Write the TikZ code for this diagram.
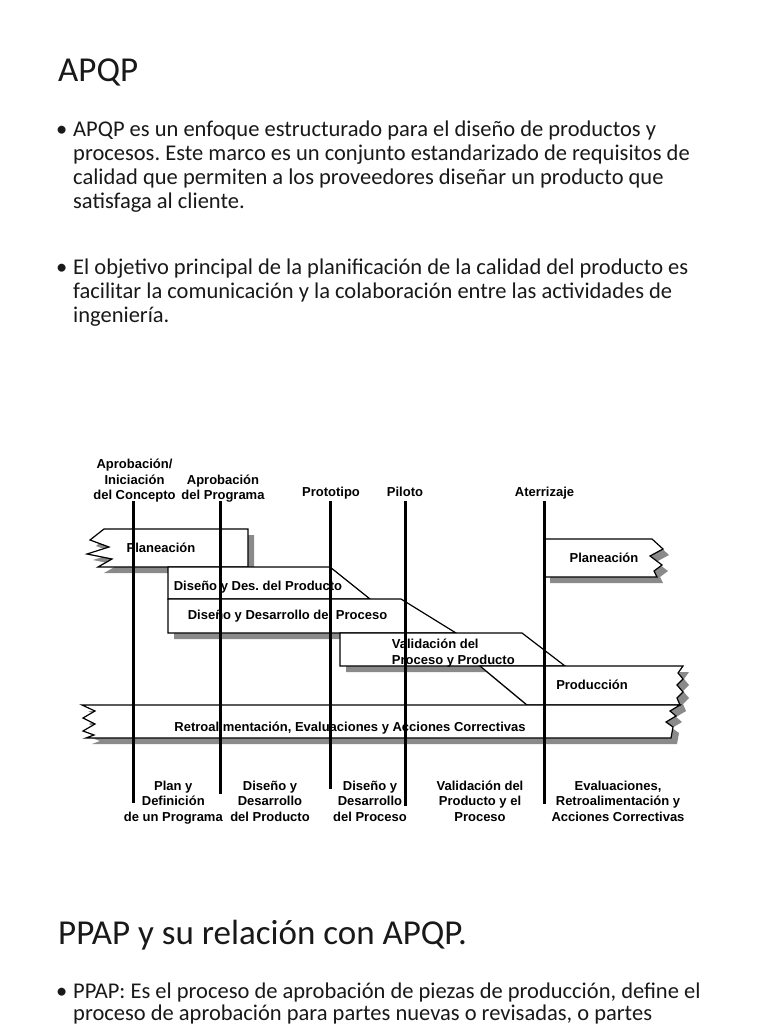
\documentclass[tikz,border=0pt]{standalone}
\usepackage{fontspec}
\setmainfont{Carlito}
\newfontfamily\chartfont{Liberation Sans}
\usepackage{tikz}
\usetikzlibrary{calc}
\definecolor{shade}{RGB}{138,138,138}
\definecolor{ink}{RGB}{25,25,25}
\frenchspacing

\begin{document}
\begin{tikzpicture}[x=1pt,y=-1pt,
  slidehead/.style={anchor=base west,inner sep=0pt,text=ink,font=\fontsize{35}{42}\selectfont},
  slidebody/.style={anchor=base west,inner sep=0pt,align=left,text=ink,font=\fontsize{22.5}{24}\selectfont},
  chartlbl/.style={anchor=base,inner sep=0pt,align=center,font=\chartfont\bfseries\fontsize{13}{15.5}\selectfont},
  phasebox/.style={fill=white,draw=black,line width=1.2pt},
  dropshade/.style={fill=shade},
  milestone/.style={line width=3pt}]
  \useasboundingbox (0,0) rectangle (768,1024);
  \fill[white] (0,0) rectangle (768,1024);

  % slide text (multi-line nodes sit on their last baseline)
  \node[slidehead] (title1) at (58,82) {APQP};
  \node[slidebody] (dot1) at (56,137) {•};
  \node[slidebody] (item1) at (73,209) {APQP es un enfoque estructurado para el diseño de productos y\\
    procesos. Este marco es un conjunto estandarizado de requisitos de\\
    calidad que permiten a los proveedores diseñar un producto que\\
    satisfaga al cliente.};
  \node[slidebody] (dot2) at (56,274) {•};
  \node[slidebody] (item2) at (73,322) {El objetivo principal de la planificación de la calidad del producto es\\
    facilitar la comunicación y la colaboración entre las actividades de\\
    ingeniería.};
  \node[slidehead] (title2) at (58,944) {PPAP y su relación con APQP.};
  \node[slidebody] (dot3) at (56,998) {•};
  \node[slidebody,font=\fontsize{22.5}{22}\selectfont] (item3) at (73,1020) {PPAP: Es el proceso de aprobación de piezas de producción, define el\\
    proceso de aprobación para partes nuevas o revisadas, o partes};

  % phases, shadow first
  \foreach \layer/\off in {dropshade/6,phasebox/0} {
    \begin{scope}[shift={(\off,\off)}]
      \path[\layer] (104,529) -- (248,529) -- (248,567) -- (98,567) -- (112,559) -- (87,554)
        -- (109,547) -- (90,540) -- cycle;
      \path[\layer] (168,567) -- (330,567) -- (370,599) -- (168,599) -- cycle;
      \path[\layer] (168,599) -- (401,599) -- (456,633) -- (168,633) -- cycle;
      \path[\layer] (340,633) -- (522,633) -- (565,666) -- (340,666) -- cycle;
      \path[\layer] (480,666) -- (683,666) -- (678,673) -- (683,679) -- (677,685) -- (683,692)
        -- (677,698) -- (680,705) -- (527,705) -- cycle;
      \path[\layer] (82,705) -- (680,705) -- (670,711) -- (676,716) -- (666,722) -- (673,727)
        -- (671,738) -- (86,738) -- (94,735) -- (83,731) -- (95,724) -- (83,718) -- (95,711) -- cycle;
      \path[\layer] (544,539) -- (652,539) -- (663,549) -- (650,556) -- (662,565) -- (654,571)
        -- (657,577) -- (544,577) -- cycle;
    \end{scope}
  }

  % milestones
  \node[chartlbl] (concept) at (134.5,499.5) {Aprobación/\\Iniciación\\del Concepto};
  \node[chartlbl] (program) at (223,499.5) {Aprobación\\del Programa};
  \node[chartlbl] (proto) at (331,496.5) {Prototipo};
  \node[chartlbl] (pilot) at (405,496.5) {Piloto};
  \node[chartlbl] (landing) at (544.5,496.5) {Aterrizaje};

  % phase texts
  \node[chartlbl] (plan1) at (161,552) {Planeación};
  \node[chartlbl] (plan2) at (604,562) {Planeación};
  \node[chartlbl] (prodes) at (258,590.5) {Diseño y Des. del Producto};
  \node[chartlbl] (procdes) at (287.5,619) {Diseño y Desarrollo del Proceso};
  \node[chartlbl,anchor=base west,align=left,font=\chartfont\bfseries\fontsize{13}{16.5}\selectfont]
    (valid) at (391.7,664.5) {Validación del\\Proceso y Producto};
  \node[chartlbl] (prodn) at (592,689.5) {Producción};
  \node[chartlbl] (retro) at (350,731) {Retroalimentación, Evaluaciones y Acciones Correctivas};

  % phase names under the chart
  \begin{scope}[every node/.append style={font=\chartfont\bfseries\fontsize{13}{15}\selectfont}]
    \node[chartlbl] (phase1) at (173.3,821) {Plan y\\Definición\\de un Programa};
    \node[chartlbl] (phase2) at (270,821) {Diseño y\\Desarrollo\\del Producto};
    \node[chartlbl] (phase3) at (370,821) {Diseño y\\Desarrollo\\del Proceso};
    \node[chartlbl] (phase4) at (480,821) {Validación del\\Producto y el\\Proceso};
    \node[chartlbl] (phase5) at (618,821) {Evaluaciones,\\Retroalimentación y\\Acciones Correctivas};
  \end{scope}

  \foreach \x/\yb [count=\i] in {133/803,220/794,330/789,405/806,544/804} {
    \coordinate (mt\i) at (\x,501);
    \coordinate (mb\i) at (\x,\yb);
    \draw[milestone] (mt\i) -- (mb\i);
  }
\end{tikzpicture}
\end{document}
